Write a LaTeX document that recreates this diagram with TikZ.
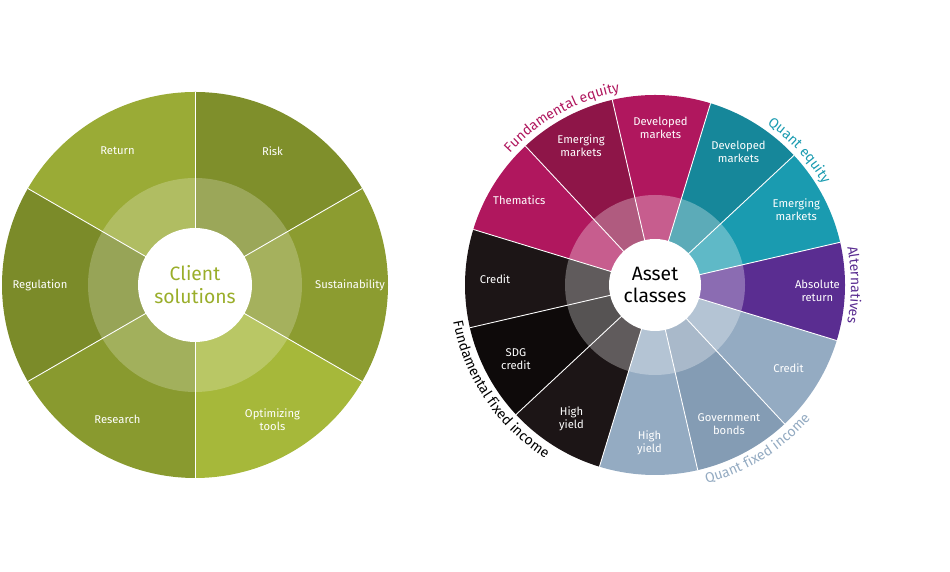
\documentclass[tikz,border=0pt]{standalone}
\usepackage{fontspec}
\setmainfont{Fira Sans}
\usetikzlibrary{calc, decorations.text}
\definecolor{olA}{HTML}{9AAB36}
\definecolor{olB}{HTML}{7F8F2B}
\definecolor{olC}{HTML}{8C9C30}
\definecolor{olD}{HTML}{A6B83A}
\definecolor{olE}{HTML}{899A2F}
\definecolor{olF}{HTML}{7B8B29}
\definecolor{olText}{HTML}{9AAE2A}
\definecolor{feq}{HTML}{B0175E}
\definecolor{feqD}{HTML}{8E1548}
\definecolor{qeq}{HTML}{1A9BB0}
\definecolor{qeqD}{HTML}{16879A}
\definecolor{alt}{HTML}{5A2D91}
\definecolor{qfi}{HTML}{94ABC2}
\definecolor{qfiD}{HTML}{849CB4}
\definecolor{ffi}{HTML}{1C1516}
\definecolor{ffiD}{HTML}{0E0A0A}
\newcommand\grpfont{\fontsize{8}{9}\selectfont}
\tikzset{seglabel/.style = {text=white, font=\fontsize{6.4}{7.4}\selectfont, align=center}}
\tikzset{divider/.style = {white, line width=0.5pt}}
\tikzset{grouplabel/.style = {decorate, decoration={text along path, text align=center}}}
\begin{document}
\begin{tikzpicture}
  \useasboundingbox (0,0) rectangle (19,11.44);
  \coordinate (cl) at (3.9,5.74);
  \coordinate (cr) at (13.1,5.74);

  % left wheel
  \foreach \a/\col in {90/olA, 30/olB, -30/olC, -90/olD, -150/olE, 150/olF}
    \fill[\col] (cl) -- ++(\a:3.86) arc (\a:\a+60:3.86) -- cycle;
  \fill[white, opacity=0.22] (cl) circle (2.14);
  \foreach \a in {90, 30, -30, -90, -150, 150}
    \draw[divider] (cl) -- ++(\a:3.86);
  \fill[white] (cl) circle (1.14);
  \node[font=\fontsize{11}{13}\selectfont, text=olText, align=center] (client) at (cl) {Client\\solutions};
  \node[seglabel] (ret) at ($(cl)+(120:3.1)$) {Return};
  \node[seglabel] (risk) at ($(cl)+(60:3.1)$) {Risk};
  \node[seglabel] (sust) at ($(cl)+(0:3.1)$) {Sustainability};
  \node[seglabel] (opt) at ($(cl)+(-60:3.1)$) {Optimizing\\tools};
  \node[seglabel] (res) at ($(cl)+(-120:3.1)$) {Research};
  \node[seglabel] (reg) at ($(cl)+(180:3.1)$) {Regulation};

  % right wheel
  \foreach \a/\col in {73/feq, 103/feqD, 133/feq, 163/ffi, 193/ffiD, 223/ffi, 253/qfi, 283/qfiD, 313/qfi, 343/alt, 13/qeq, 43/qeqD}
    \fill[\col] (cr) -- ++(\a:3.8) arc (\a:\a+30:3.8) -- cycle;
  \fill[white, opacity=0.3] (cr) circle (1.8);
  \foreach \a in {13, 43, ..., 343}
    \draw[divider] (cr) -- ++(\a:3.8);
  \fill[white] (cr) circle (0.92);
  \node[font=\fontsize{11}{13}\selectfont, align=center] (asset) at (cr) {Asset\\classes};
  \node[seglabel] (fdev) at ($(cr)+(88:3.15)$) {Developed\\markets};
  \node[seglabel] (femg) at ($(cr)+(118:3.15)$) {Emerging\\markets};
  \node[seglabel] (them) at ($(cr)+(148:3.2)$) {Thematics};
  \node[seglabel] (fcred) at ($(cr)+(178:3.2)$) {Credit};
  \node[seglabel] (sdg) at ($(cr)+(208:3.15)$) {SDG\\credit};
  \node[seglabel] (fhy) at ($(cr)+(238:3.15)$) {High\\yield};
  \node[seglabel] (qhy) at ($(cr)+(268:3.15)$) {High\\yield};
  \node[seglabel] (gov) at ($(cr)+(298:3.15)$) {Government\\bonds};
  \node[seglabel] (qcred) at ($(cr)+(328:3.15)$) {Credit};
  \node[seglabel] (absr) at ($(cr)+(358:3.25)$) {Absolute\\return};
  \node[seglabel] (qemg) at ($(cr)+(28:3.2)$) {Emerging\\markets};
  \node[seglabel] (qdev) at ($(cr)+(58:3.15)$) {Developed\\markets};

  % group labels
  \path[grouplabel, decoration={text={|\color{feq}\grpfont|Fundamental equity}}]
    ($(cr)+(140:3.92)$) arc (140:98:3.92);
  \path[grouplabel, decoration={text={|\color{qeq}\grpfont|Quant equity}}]
    ($(cr)+(56:3.92)$) arc (56:30:3.92);
  \path[grouplabel, decoration={text={|\color{alt}\grpfont|Alternatives}}]
    ($(cr)+(12:3.92)$) arc (12:-12:3.92);
  \path[grouplabel, decoration={text={|\color{qfi}\grpfont|Quant fixed income}}]
    ($(cr)+(-78:4.1)$) arc (-78:-38:4.1);
  \path[grouplabel, decoration={text={|\color{black}\grpfont|Fundamental fixed income}}]
    ($(cr)+(188:4.1)$) arc (188:240:4.1);
\end{tikzpicture}
\end{document}
